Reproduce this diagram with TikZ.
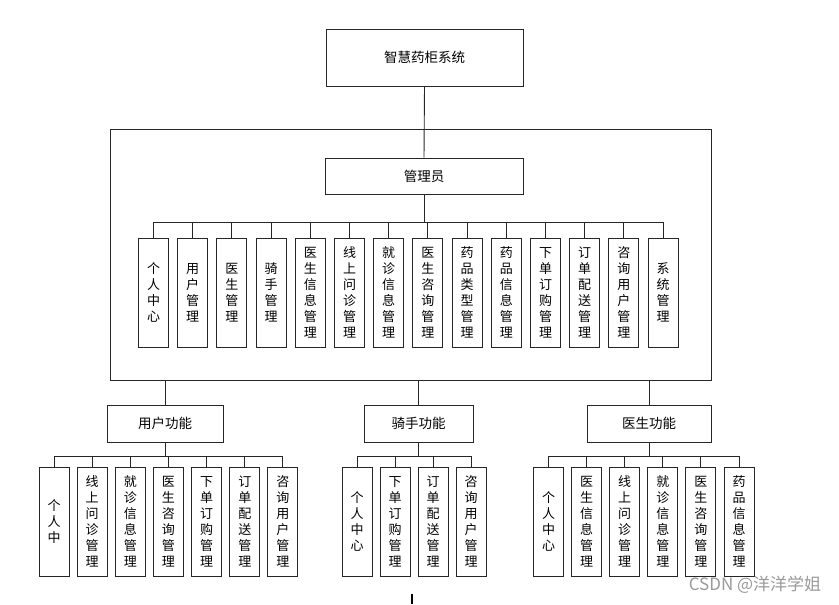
\documentclass[tikz,border=0pt]{standalone}
\usepackage{fontspec}
\setmainfont{Noto Sans CJK SC}
\begin{document}
\begin{tikzpicture}[x=1pt,y=-1pt,
  box/.style={draw=black!85, line width=0.9pt, fill=white, inner sep=0pt, font=\fontsize{13.5}{16}\selectfont},
  vbox/.style={box, minimum width=30, minimum height=109, align=center, font=\fontsize{13}{16}\selectfont},
  link/.style={draw=black!85, line width=0.9pt}]
\useasboundingbox (0,0) rectangle (839,605);
% frame
\node[draw=black!85, line width=0.9pt, inner sep=0pt, minimum width=601, minimum height=251] (frame) at (410.5,254.5) {};
% top
\node[box, minimum width=197, minimum height=57] (top) at (424.5,57.5) {智慧药柜系统};
\node[box, minimum width=198, minimum height=36] (adm) at (424,176) {管理员};
\draw[link] (top.south) -- (adm.north);
% admin children
\foreach \t [count=\i] in {个\\人\\中\\心, 用\\户\\管\\理, 医\\生\\管\\理, 骑\\手\\管\\理, 医\\生\\信\\息\\管\\理, 线\\上\\问\\诊\\管\\理, 就\\诊\\信\\息\\管\\理, 医\\生\\咨\\询\\管\\理, 药\\品\\类\\型\\管\\理, 药\\品\\信\\息\\管\\理, 下\\单\\订\\购\\管\\理, 订\\单\\配\\送\\管\\理, 咨\\询\\用\\户\\管\\理, 系\\统\\管\\理}{
  \node[vbox] (a\i) at ({153.5+39.2*(\i-1)},292.5) {\t};
  \draw[link] (adm.south) -- ++(0,28) -| (a\i.north);
}
% function boxes
\node[box, minimum width=116, minimum height=37] (uf) at (165,423.5) {用户功能};
\node[box, minimum width=109, minimum height=37] (rf) at (418.5,423.5) {骑手功能};
\node[box, minimum width=124, minimum height=37] (df) at (649,423.5) {医生功能};
\draw[link] (frame.south -| uf.north) -- (uf.north);
\draw[link] (frame.south -| rf.north) -- (rf.north);
\draw[link] (frame.south -| df.north) -- (df.north);
% user children
\foreach \t [count=\i] in {个\\人\\中, 线\\上\\问\\诊\\管\\理, 就\\诊\\信\\息\\管\\理, 医\\生\\咨\\询\\管\\理, 下\\单\\订\\购\\管\\理, 订\\单\\配\\送\\管\\理, 咨\\询\\用\\户\\管\\理}{
  \node[vbox] (u\i) at ({54+38.15*(\i-1)},521.5) {\t};
  \draw[link] (uf.south) -- ++(0,14) -| (u\i.north);
}
% rider children
\foreach \t [count=\i] in {个\\人\\中\\心, 下\\单\\订\\购\\管\\理, 订\\单\\配\\送\\管\\理, 咨\\询\\用\\户\\管\\理}{
  \node[vbox] (r\i) at ({357+38*(\i-1)},521.5) {\t};
  \draw[link] (rf.south) -- ++(0,14) -| (r\i.north);
}
% doctor children
\foreach \t [count=\i] in {个\\人\\中\\心, 医\\生\\信\\息\\管\\理, 线\\上\\问\\诊\\管\\理, 就\\诊\\信\\息\\管\\理, 医\\生\\咨\\询\\管\\理, 药\\品\\信\\息\\管\\理}{
  \node[vbox] (d\i) at ({548.5+38.1*(\i-1)},521.5) {\t};
  \draw[link] (df.south) -- ++(0,14) -| (d\i.north);
}
% small mark and watermark
\coordinate (m1) at (412,594);
\coordinate (m2) at (412,604);
\draw[line width=1.6pt] (m1) -- (m2);
\node[text=black!40, font=\fontsize{17}{20}\selectfont, inner sep=0pt] (wm) at (755,585) {CSDN @洋洋学姐};
\end{tikzpicture}
\end{document}
